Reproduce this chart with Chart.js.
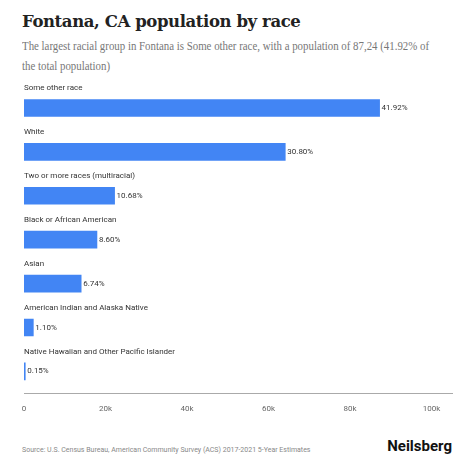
<!DOCTYPE html>
<html><head><meta charset="utf-8">
<script src="https://cdn.jsdelivr.net/npm/chart.js@4"></script>
<style>
body{margin:0;width:474px;height:474px;background:#fff;position:relative;overflow:hidden;font-family:Roboto,sans-serif}
#t{position:absolute;left:22px;top:12px;font:bold 16.5px "DejaVu Serif",serif;color:#222;letter-spacing:-0.4px}
#s{position:absolute;left:22px;top:36px;white-space:nowrap;font:13px "Liberation Serif",serif;color:#777;line-height:20px;transform:scaleX(0.835);transform-origin:left top}
#c{position:absolute;left:0;top:72px;width:474px;height:345px}
#src{position:absolute;left:22px;top:446px;font:7px Roboto,sans-serif;color:#888}
#n{position:absolute;right:22px;top:437px;font:bold 15px Roboto,sans-serif;color:#111}
</style></head><body>
<div id="t">Fontana, CA population by race</div>
<div id="s">The largest racial group in Fontana is Some other race, with a population of 87,24 (41.92% of<br>the total population)</div>
<div id="c"><canvas id="cv"></canvas></div>
<div id="src">Source: U.S. Census Bureau, American Community Survey (ACS) 2017-2021 5-Year Estimates</div>
<div id="n">Neilsberg</div>
<script>
const categories=["Some other race","White","Two or more races (multiracial)","Black or African American","Asian","American Indian and Alaska Native","Native Hawaiian and Other Pacific Islander"];
const values=[87240,64098,22226,17898,14027,2289,312];
const percents=["41.92%","30.80%","10.68%","8.60%","6.74%","1.10%","0.15%"];
const tickValues=[0,20000,40000,60000,80000,100000];
const tickLabels=["0","20k","40k","60k","80k","100k"];
const lbl={id:'lbl',afterDatasetsDraw(ch){const c=ch.ctx;const m=ch.getDatasetMeta(0);c.save();c.font='8px Roboto';c.fillStyle='#333';c.textBaseline='middle';
m.data.forEach((b,i)=>{c.textAlign='left';c.fillText(categories[i],ch.chartArea.left,b.y-b.height/2-11);c.fillText(percents[i],b.x+2,b.y);});c.restore();}};
new Chart(document.getElementById('cv'),{type:'bar',data:{labels:categories,datasets:[{data:values,backgroundColor:'#4285f4',barThickness:17}]},
options:{indexAxis:'y',responsive:true,maintainAspectRatio:false,animation:false,layout:{padding:{left:24,right:22,top:14}},
plugins:{legend:{display:false},tooltip:{enabled:false}},
scales:{y:{display:false},x:{min:0,max:105000,grid:{display:false},border:{color:'#aaa'},
afterBuildTicks:s=>{s.ticks=tickValues.map(v=>({value:v}));},
ticks:{autoSkip:false,maxRotation:0,color:'#666',font:{size:8,family:'Roboto'},callback:(v,i)=>tickLabels[i]}}}},plugins:[lbl]});
</script></body></html>
